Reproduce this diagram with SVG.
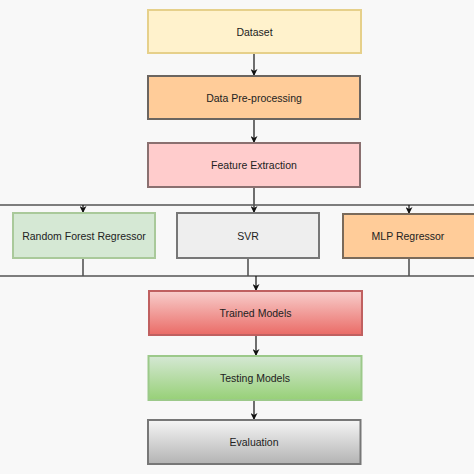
<svg xmlns="http://www.w3.org/2000/svg" width="474" height="474" viewBox="0 0 474 474">
<defs>
<marker id="arr" viewBox="0 0 10 10" refX="10" refY="5" markerWidth="7" markerHeight="7" markerUnits="userSpaceOnUse" orient="auto">
<path d="M0,0 L10,5 L0,10 L3,5 Z" fill="#111"/>
</marker>
<linearGradient id="gRed" x1="0" y1="0" x2="0" y2="1"><stop offset="0" stop-color="#f8cecc"/><stop offset="1" stop-color="#ea6b66"/></linearGradient>
<linearGradient id="gGreen" x1="0" y1="0" x2="0" y2="1"><stop offset="0" stop-color="#d5e8d4"/><stop offset="1" stop-color="#97d077"/></linearGradient>
<linearGradient id="gGray" x1="0" y1="0" x2="0" y2="1"><stop offset="0" stop-color="#f5f5f5"/><stop offset="1" stop-color="#b3b3b3"/></linearGradient>
</defs>
<style>
text{font-family:"Liberation Sans",Arial,sans-serif;font-size:10.5px;fill:#222;text-anchor:middle;dominant-baseline:central}
rect{stroke-width:2}
.edge{fill:none;stroke:#111;stroke-width:1.2}
.bus{fill:none;stroke:#555;stroke-width:1.6}
</style>
<rect width="474" height="474" fill="#f8f8f8"/>
<g id="connectors">
<path class="edge" d="M254,53 V76" marker-end="url(#arr)"/>
<path class="edge" d="M254,119 V143" marker-end="url(#arr)"/>
<path class="edge" d="M254,188 V213" marker-end="url(#arr)"/>
<path class="bus" d="M0,205 H474"/>
<path class="edge" d="M83,205 V213" marker-end="url(#arr)"/>
<path class="edge" d="M409,205 V214" marker-end="url(#arr)"/>
<path class="bus" d="M83,258 V276 M248,258 V276 M409,258 V276"/>
<path class="bus" d="M0,276 H474"/>
<path class="edge" d="M256,276 V291" marker-end="url(#arr)"/>
<path class="edge" d="M256,335 V356" marker-end="url(#arr)"/>
<path class="edge" d="M254,400 V420" marker-end="url(#arr)"/>
</g>
<g id="dataset"><rect x="148" y="10" width="213" height="43" fill="#fff2cc" stroke="#e6d08a"/><text x="254.5" y="31.5">Dataset</text></g>
<g id="preprocessing"><rect x="148" y="76" width="212" height="43" fill="#ffcc99" stroke="#6b6560"/><text x="254" y="98">Data Pre-processing</text></g>
<g id="feature"><rect x="148" y="143" width="212" height="44" fill="#ffcccc" stroke="#8a7070"/><text x="254" y="165">Feature Extraction</text></g>
<g id="rf"><rect x="13" y="213" width="142" height="45" fill="#d5e8d4" stroke="#a9c99a"/><text x="84" y="235.5">Random Forest Regressor</text></g>
<g id="svr"><rect x="177" y="213" width="142" height="45" fill="#eeeeee" stroke="#777"/><text x="248" y="235.5">SVR</text></g>
<g id="mlp"><rect x="343" y="214" width="140" height="44" fill="#ffcc99" stroke="#7a6a5a"/><text x="408" y="235.5">MLP Regressor</text></g>
<g id="trained"><rect x="149" y="291" width="213" height="44" fill="url(#gRed)" stroke="#c06060"/><text x="255.5" y="313">Trained Models</text></g>
<g id="testing"><rect x="148.5" y="356" width="213" height="44" fill="url(#gGreen)" stroke="#9cc98a"/><text x="255" y="378">Testing Models</text></g>
<g id="evaluation"><rect x="148" y="420" width="212.5" height="44" fill="url(#gGray)" stroke="#777"/><text x="254" y="442">Evaluation</text></g>
</svg>
